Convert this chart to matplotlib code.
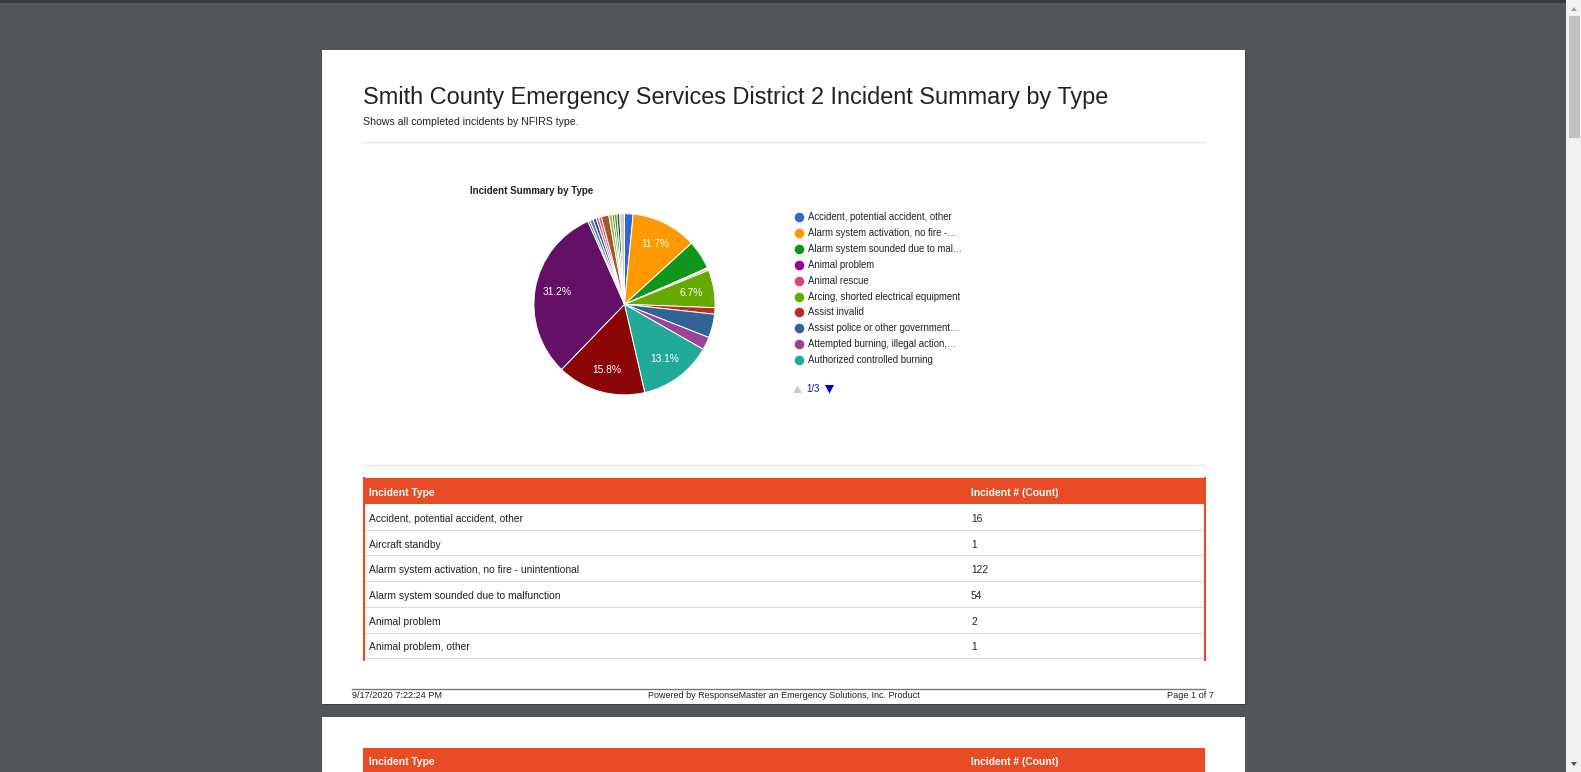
import numpy as np
import matplotlib
matplotlib.use('Agg')
import matplotlib.pyplot as plt
from matplotlib.patches import Rectangle, Polygon

plt.rcParams['font.family'] = ['Liberation Sans', 'DejaVu Sans']

W, H = 1581, 772

# NFIRS incident types in report order (only the first legend page is visible)
incident_types = [
    'Accident, potential accident, other',
    'Aircraft standby',
    'Alarm system activation, no fire - unintentional',
    'Alarm system sounded due to malfunction',
    'Animal problem',
    'Animal problem, other',
    'Animal rescue',
    'Arcing, shorted electrical equipment',
    'Assist invalid',
    'Assist police or other governmental agency',
    'Attempted burning, illegal action, other',
    'Authorized controlled burning',
    'Biological hazard, confirmed or suspected',
    'Bomb scare - no bomb',
    'Building or structure weakened or collapsed',
    'Dispatched & canceled en route',
    'EMS call, excluding vehicle accident with injury',
    'Emergency medical service incident, other',
    'Extrication of victim(s) from vehicle',
    'False alarm or false call, other',
    'Fire, other',
    'Fuel burner/boiler malfunction',
    'Gas leak (natural gas or LPG)',
    'Good intent call, other',
    'Grass fire',
    'Hazardous condition, other',
    'Lock-out',
    'Medical assist, assist EMS crew',
    'Mobile property (vehicle) fire, other',
    'Motor vehicle accident with injuries',
    'Natural vegetation fire, other',
]
incident_counts = [16, 1, 122, 54, 2, 1, 3, 70, 12, 44, 24, 137, 1, 1, 1,
                   165, 325, 4, 6, 6, 5, 1, 1, 5, 14, 6, 4, 5, 1, 5, 1]
slice_colors = ['#3366cc', '#dc3912', '#ff9900', '#109618', '#990099', '#0099c6',
                '#dd4477', '#66aa00', '#b82e2e', '#316395', '#994499', '#22aa99',
                '#aaaa11', '#6633cc', '#e67300', '#8b0707', '#651067', '#329262',
                '#5574a6', '#3b3eac', '#b77322', '#16d620', '#b91383', '#f4359e',
                '#9c5935', '#a9c413', '#2a778d', '#668d1c', '#bea413', '#0c5922',
                '#743411']

# table rows shown on page 1
table_types = ['Accident, potential accident, other', 'Aircraft standby',
               'Alarm system activation, no fire - unintentional',
               'Alarm system sounded due to malfunction', 'Animal problem',
               'Animal problem, other']
table_counts = [16, 1, 122, 54, 2, 1]

report_title = 'Smith County Emergency Services District 2 Incident Summary by Type'
report_sub = 'Shows all completed incidents by NFIRS type.'
chart_title = 'Incident Summary by Type'
footer = ['9/17/2020 7:22:24 PM',
          'Powered by ResponseMaster an Emergency Solutions, Inc. Product',
          'Page 1 of 7']

# small slices get folded into "Other" like the web chart does
counts = np.array(incident_counts, dtype=float)
total = counts.sum()
shown = counts / total >= 1 / 720.0
pie_vals = list(counts[shown]) + [counts[~shown].sum()]
pie_cols = [c for c, s in zip(slice_colors, shown) if s] + ['#cccccc']
legend_names = [n for n, s in zip(incident_types, shown) if s][:10]
legend_cols = pie_cols[:10]

ORANGE = '#e84c27'
BG = '#525659'

fig = plt.figure(figsize=(W / 100, H / 100), dpi=100)
fig.patch.set_facecolor(BG)
bg = fig.add_axes([0, 0, 1, 1])
bg.set_xlim(0, W)
bg.set_ylim(H, 0)
bg.axis('off')
renderer = fig.canvas.get_renderer()

# top strip + scrollbar
bg.add_patch(Rectangle((0, 0), W, 2.5, color='#3a3b3d', lw=0))
bg.add_patch(Rectangle((1566, 0), 15, H, color='#f1f1f1', lw=0))
bg.add_patch(Rectangle((1568.5, 16), 11, 122, color='#c1c1c1', lw=0))
bg.add_patch(Polygon([[1571, 11], [1577, 11], [1574, 7]], color='#a3a3a3', lw=0))
bg.add_patch(Polygon([[1571, 762], [1577, 762], [1574, 766]], color='#505050', lw=0))

# pages
bg.add_patch(Rectangle((323, 51), 923, 654, color='#3f4245', lw=0))
bg.add_patch(Rectangle((322, 50), 923, 654, color='white', lw=0))
bg.add_patch(Rectangle((322, 717), 923, 60, color='white', lw=0))

bg.text(363, 104, report_title, fontsize=16.9, color='#222222', va='baseline')
bg.text(363, 122, report_sub, fontsize=7.6, color='#222222', va='center')
bg.plot([363, 1205], [142, 142], color='#e6e6e6', lw=1)
bg.plot([363, 1205], [465, 465], color='#e6e6e6', lw=1)
bg.text(470, 190.5, chart_title, fontsize=7.0, fontweight='bold', color='#222222', va='center')

# legend (page 1 of 3), long names cut with an ellipsis like the web chart
for i, (name, col) in enumerate(zip(legend_names, legend_cols)):
    y = 217.3 + i * 15.85
    bg.scatter([798.6], [y], s=48, color=col, zorder=3, linewidths=0)
    t = bg.text(807.7, y, name, fontsize=6.9, color='#222222', va='center')
    cut = len(name)
    while t.get_window_extent(renderer).width > 155.5 and cut > 5:
        cut -= 1
        t.set_text(name[:cut].rstrip() + '…')
bg.add_patch(Polygon([[793, 393], [802, 393], [797.5, 385]], color='#cccccc', lw=0))
bg.text(806, 389.5, '1/3', fontsize=6.9, color='#0011cc', va='center')
bg.add_patch(Polygon([[825, 385], [834, 385], [829.5, 393.5]], color='#0000cc', lw=0))

# table
bg.add_patch(Rectangle((363, 478), 842, 26, color=ORANGE, lw=0))
bg.text(369, 493, 'Incident Type', fontsize=7.4, fontweight='bold', color='white', va='center')
bg.text(971, 493, 'Incident # (Count)', fontsize=7.4, fontweight='bold', color='white', va='center')
row_h = 25.7
for i, (t, c) in enumerate(zip(table_types, table_counts)):
    y0 = 504 + i * row_h
    bg.text(369, y0 + row_h / 2 + 2, t, fontsize=7.35, color='#222222', va='center')
    bg.text(971, y0 + row_h / 2 + 2, str(c), fontsize=7.35, color='#222222', va='center')
    bg.plot([365, 1204], [y0 + row_h, y0 + row_h], color='#dddddd', lw=0.8)
bg.plot([364, 364], [478, 660], color=ORANGE, lw=1.5)
bg.plot([1205, 1205], [478, 660], color=ORANGE, lw=1.5)

# footer
bg.plot([352, 1205], [689, 689], color='#777777', lw=1)
bg.text(352, 695.5, footer[0], fontsize=6.6, color='#222222', va='center')
bg.text(784, 695.5, footer[1], fontsize=6.45, color='#222222', va='center', ha='center')
bg.text(1214, 695.5, footer[2], fontsize=6.6, color='#222222', va='center', ha='right')

# second page header
bg.add_patch(Rectangle((363, 748), 842, 30, color=ORANGE, lw=0))
bg.text(369, 762, 'Incident Type', fontsize=7.4, fontweight='bold', color='white', va='center')
bg.text(971, 762, 'Incident # (Count)', fontsize=7.4, fontweight='bold', color='white', va='center')

# pie
cx, cy, r = 624.5, 304.3, 91.5
pax = fig.add_axes([(cx - r) / W, 1 - (cy + r) / H, 2 * r / W, 2 * r / H])


def pct_label(p):
    return '%.1f%%' % p if p >= 6 else ''


pax.pie(pie_vals, colors=pie_cols, startangle=90, counterclock=False,
        autopct=pct_label, pctdistance=0.75,
        wedgeprops=dict(edgecolor='white', linewidth=0.7),
        textprops=dict(color='white', fontsize=7.4))
pax.set_xlim(-1.01, 1.01)
pax.set_ylim(-1.01, 1.01)
pax.axis('off')

fig.savefig('out.png', dpi=100, facecolor=BG)
